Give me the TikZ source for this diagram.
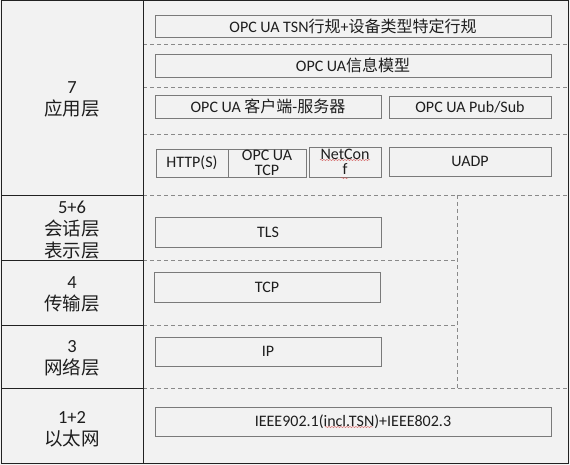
\documentclass[tikz,border=0pt]{standalone}
\usepackage{fontspec}
\setmainfont{Carlito}
\newfontfamily\cjk{Noto Sans CJK SC}
\usetikzlibrary{decorations.pathmorphing}
\definecolor{bg}{HTML}{F2F2F2}
\definecolor{boxline}{HTML}{7A7A7A}
\definecolor{dashc}{HTML}{8A8A8A}
\definecolor{txt}{HTML}{1E1E1E}
\definecolor{frame}{HTML}{222222}
\definecolor{squig}{HTML}{D05050}
\tikzset{
  pbox/.style={draw=boxline, line width=0.9pt, fill=bg, anchor=north west, inner sep=0pt, outer sep=0pt,
    text=txt, font=\fontsize{16}{15}\selectfont, align=center},
  lbl/.style={text=txt, font=\fontsize{18.5}{22}\selectfont, align=center, inner sep=0pt},
  dline/.style={draw=dashc, line width=0.7pt, dash pattern=on 4pt off 3pt},
  sline/.style={draw=frame, line width=1pt},
  squiggle/.style={draw=squig, line width=0.45pt, decorate, decoration={snake, amplitude=0.5pt, segment length=3pt}}
}
\begin{document}
\begin{tikzpicture}[x=1pt, y=-1pt]
\useasboundingbox (0,0) rectangle (570,465);
\fill[bg] (0,0) rectangle (570,465);
% dashed separators
\coordinate (d1a) at (143,44);  \coordinate (d1b) at (568,44);
\coordinate (d2a) at (143,87);  \coordinate (d2b) at (568,87);
\coordinate (d3a) at (143,134); \coordinate (d3b) at (568,134);
\coordinate (d4a) at (143,195); \coordinate (d4b) at (568,195);
\coordinate (d5a) at (143,260); \coordinate (d5b) at (457,260);
\coordinate (d6a) at (143,325); \coordinate (d6b) at (457,325);
\coordinate (d7a) at (143,388); \coordinate (d7b) at (568,388);
\coordinate (vt) at (457,195); \coordinate (vb) at (457,388);
\foreach \a/\b in {d1a/d1b,d2a/d2b,d3a/d3b,d4a/d4b,d5a/d5b,d6a/d6b,d7a/d7b,vt/vb}
  \draw[dline] (\a) -- (\b);
% frame and left column
\coordinate (fTL) at (1,1); \coordinate (fBR) at (568,463);
\coordinate (cT) at (143,1); \coordinate (cB) at (143,463);
\draw[sline] (fTL) rectangle (fBR);
\draw[sline] (cT) -- (cB);
\coordinate (h1a) at (1,196); \coordinate (h1b) at (143,196);
\coordinate (h2a) at (1,260); \coordinate (h2b) at (143,260);
\coordinate (h3a) at (1,325); \coordinate (h3b) at (143,325);
\coordinate (h4a) at (1,388); \coordinate (h4b) at (143,388);
\foreach \a/\b in {h1a/h1b,h2a/h2b,h3a/h3b,h4a/h4b}
  \draw[sline] (\a) -- (\b);
% left labels
\node[lbl] (l7) at (72,99) {7\\{\cjk 应用层}};
\node[lbl] (l56) at (72,230) {5+6\\{\cjk 会话层}\\{\cjk 表示层}};
\node[lbl] (l4) at (72,294) {4\\{\cjk 传输层}};
\node[lbl] (l3) at (72,358) {3\\{\cjk 网络层}};
\node[lbl] (l12) at (72,429) {1+2\\{\cjk 以太网}};
% boxes
\node[pbox, minimum width=396, minimum height=22] (tsn) at (155,15) {OPC UA TSN{\cjk 行规}+{\cjk 设备类型特定行规}};
\node[pbox, minimum width=396, minimum height=23] (info) at (155,54) {OPC UA{\cjk 信息模型}};
\node[pbox, minimum width=226, minimum height=23] (cs) at (155,95) {OPC UA {\cjk 客户端}-{\cjk 服务器}};
\node[pbox, minimum width=162, minimum height=22] (pubsub) at (389,96) {OPC UA Pub/Sub};
\node[pbox, minimum width=72, minimum height=28] (http) at (156,149) {HTTP(S)};
\node[pbox, minimum width=78, minimum height=28] (opctcp) at (228,149) {OPC UA\\TCP};
\node[pbox, minimum width=72, minimum height=30] (netconf) at (309,147) {NetCon\\f};
\node[pbox, minimum width=162, minimum height=29] (uadp) at (389,147) {UADP};
\node[pbox, minimum width=226, minimum height=30] (tls) at (155,217) {TLS};
\node[pbox, minimum width=226, minimum height=30] (tcp) at (154,272) {TCP};
\node[pbox, minimum width=226, minimum height=29] (ip) at (155,337) {IP};
\node[pbox, minimum width=396, minimum height=29] (ieee) at (155,407) {IEEE902.1(incl.TSN)+IEEE802.3};
% spell-check underlines
\coordinate (s1a) at (320,160); \coordinate (s1b) at (370,160);
\coordinate (s2a) at (341,178); \coordinate (s2b) at (348,178);
\coordinate (s3a) at (325,427); \coordinate (s3b) at (373,427);
\draw[squiggle] (s1a) -- (s1b);
\draw[squiggle] (s2a) -- (s2b);
\draw[squiggle] (s3a) -- (s3b);
\end{tikzpicture}
\end{document}
